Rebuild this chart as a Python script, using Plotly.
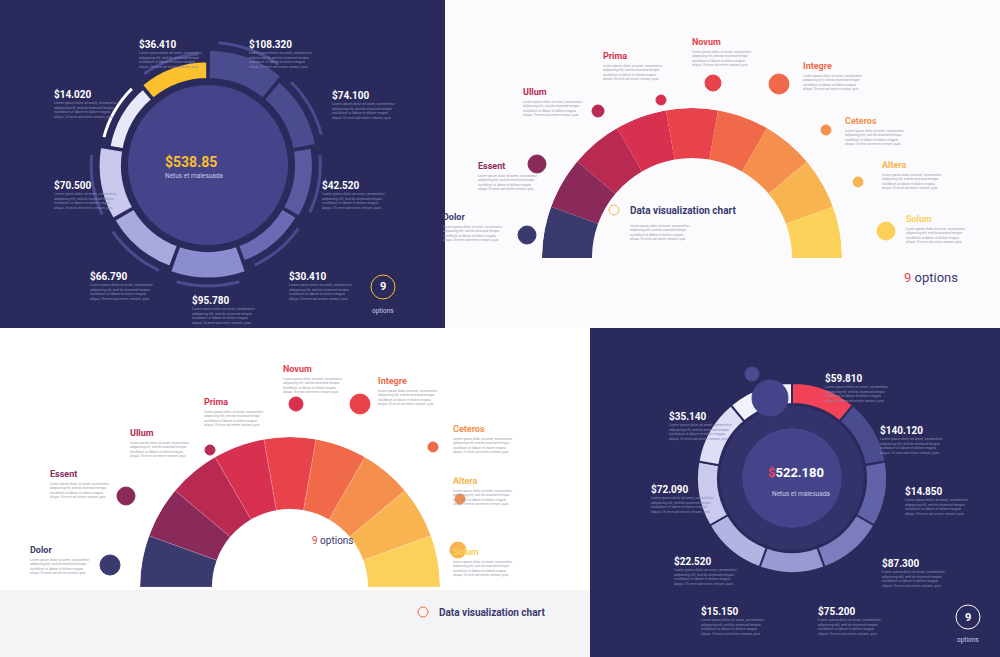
import plotly.graph_objects as go

W, H = 1000, 657
def px(x): return x / W
def py(y): return 1 - y / H

# ---------- data ----------
tl_labels = ["$108.320", "$74.100", "$42.520", "$30.410", "$95.780", "$66.790", "$70.500", "$14.020", "$36.410"]
tl_values = [108.32, 74.10, 42.52, 30.41, 95.78, 66.79, 70.50, 14.02, 36.41]
tl_colors = ["#4b4b8f", "#4b4b8f", "#5a5aa0", "#6b6bb5", "#8c8cd0", "#a9a9e0", "#c9c9ee", "#e8e8f8", "#fbc02d"]
tl_pos = [(247, 36), (330, 87), (320, 177), (287, 268), (190, 292), (88, 268), (52, 177), (52, 86), (137, 36)]

opt_names = ["Dolor", "Essent", "Ullum", "Prima", "Novum", "Integre", "Ceteros", "Altera", "Solum"]
opt_colors = ["#3a3a6e", "#8a2a5a", "#b82a52", "#d8304f", "#e8434a", "#f06a4a", "#f58f4d", "#f8b450", "#fbd15a"]
tr_pos = [(441, 210), (476, 159), (521, 85), (601, 49), (690, 35), (801, 59), (843, 114), (880, 158), (904, 212)]
bl_pos = [(28, 543), (48, 467), (128, 426), (202, 395), (281, 362), (376, 374), (451, 422), (451, 474), (451, 545)]

br_labels = ["$59.810", "$140.120", "$14.850", "$87.300", "$75.200", "$15.150", "$22.520", "$72.090", "$35.140"]
br_values = [59.81, 140.12, 14.85, 87.30, 75.20, 15.15, 22.52, 72.09, 35.14]
br_colors = ["#f0435a", "#4b4b8f", "#6262a8", "#7c7cbe", "#9a9ad2", "#b4b4e2", "#cacaee", "#dedef6", "#f2f2fb"]
br_pos = [(823, 370), (878, 422), (903, 483), (880, 555), (816, 603), (699, 603), (672, 553), (649, 481), (667, 408)]

LOREM = "Lorem ipsum dolor sit amet, consectetur<br>adipiscing elit, sed do eiusmod tempor<br>incididunt ut labore et dolore magna<br>aliqua. Ut enim ad minim veniam, quis"

fig = go.Figure()
shapes, ann = [], []

def rect(x0, y0, x1, y1, c):
    shapes.append(dict(type="rect", xref="paper", yref="paper", x0=px(x0), x1=px(x1),
                       y0=py(y1), y1=py(y0), fillcolor=c, line_width=0, layer="below"))
rect(0, 0, 1000, 657, "#ffffff")
rect(445, 0, 1000, 328, "#fbfbfd")
rect(0, 0, 445, 328, "#2b2a5c")
rect(590, 328, 1000, 657, "#2b2a5c")
rect(0, 590, 590, 657, "#f4f4f6")

def circ(cx, cy, r, c, line=None):
    shapes.append(dict(type="circle", xref="paper", yref="paper", x0=px(cx - r), x1=px(cx + r),
                       y0=py(cy + r), y1=py(cy - r), fillcolor=c,
                       line=dict(color=line or c, width=1)))

def text(x, y, t, size, color, bold=False, anchor="left", yanchor="top"):
    ann.append(dict(x=px(x), y=py(y), xref="paper", yref="paper", text=f"<b>{t}</b>" if bold else t,
                    showarrow=False, xanchor=anchor, yanchor=yanchor, align="left",
                    font=dict(family="Roboto", size=size, color=color)))

# ---------- top-left radial ----------
thetas = [20 + 40 * i for i in range(9)]
seg = [12 + v * 0.16 for v in tl_values]
fig.add_trace(go.Barpolar(r=[80], theta=[180], width=[360], base=0,
                          marker=dict(color="#45448a", line_width=0), subplot="polar"))
fig.add_trace(go.Barpolar(r=seg, theta=thetas, width=[39] * 9, base=[86] * 9,
                          marker=dict(color=tl_colors, line=dict(color="#2b2a5c", width=2)), subplot="polar"))
fig.add_trace(go.Barpolar(r=[3] * 9, theta=thetas, width=[30] * 9,
                          base=[86 + s + 6 for s in seg],
                          marker=dict(color=["#4b4b8f"] * 7 + ["#ffffff", "#4b4b8f"], line_width=0), subplot="polar"))
for (x, y), l in zip(tl_pos, tl_labels):
    text(x, y, l, 10, "#ffffff", bold=True)
    text(x, y + 13, LOREM, 3.5, "#8a8ab5")
text(163, 152, "$538.85", 14, "#fbc02d", bold=True)
text(163, 170, "Netus et malesuada", 6.5, "#c8c8e8")
circ(383, 287, 12, "rgba(0,0,0,0)", line="#fbc02d")
text(383, 287, "9", 11, "#ffffff", bold=True, anchor="center", yanchor="middle")
text(383, 305, "options", 6.5, "#c8c8e8", anchor="center")

# ---------- top-right semicircle ----------
th2 = [10 + 20 * i for i in range(9)]
fig.add_trace(go.Barpolar(r=[50] * 9, theta=th2, width=[20] * 9, base=[100] * 9,
                          marker=dict(color=opt_colors, line_width=0), subplot="polar2"))
for (x, y), n, c in zip(tr_pos, opt_names, opt_colors):
    text(x, y, n, 9, c, bold=True)
    text(x, y + 13, LOREM, 3.3, "#9a9aaa")
for (cx, cy), c, r in zip([(527, 235), (537, 164), (598, 111), (661, 100), (713, 83), (779, 84), (826, 130), (858, 182), (886, 231)],
                          opt_colors, [9, 9, 6, 5, 8, 10, 5, 5, 9]):
    circ(cx, cy, r, c)
circ(614, 210, 5, "rgba(0,0,0,0)", line="#f8b450")
text(628, 210, "Data visualization chart", 10, "#3a3a6e", bold=True, yanchor="middle")
text(628, 222, LOREM, 3.3, "#9a9aaa")
text(902, 277, "<span style='color:#e8434a'>9</span> options", 13, "#3a3a6e", yanchor="middle")

# ---------- bottom-left ----------
fig.add_trace(go.Barpolar(r=[72] * 9, theta=th2, width=[20] * 9, base=[78] * 9,
                          marker=dict(color=opt_colors, line=dict(color="rgba(255,255,255,0.15)", width=1)),
                          subplot="polar3"))
for (x, y), n, c in zip(bl_pos, opt_names, opt_colors):
    text(x, y, n, 9, c, bold=True)
    text(x, y + 13, LOREM, 3.3, "#9a9aaa")
for (cx, cy), c, r in zip([(110, 565), (126, 496), (210, 450), (296, 404), (360, 404), (433, 447), (460, 499), (458, 550)],
                          opt_colors[:8], [10, 9, 5, 7, 10, 5, 5, 8]):
    circ(cx, cy, r, c)
text(310, 540, "<span style='color:#e8434a'>9</span> options", 10, "#3a3a6e", yanchor="middle")
circ(423, 612, 5, "rgba(0,0,0,0)", line="#f06a4a")
text(437, 612, "Data visualization chart", 10, "#3a3a6e", bold=True, yanchor="middle")

# ---------- bottom-right donut ----------
fig.add_trace(go.Barpolar(r=[50], theta=[180], width=[360], base=0,
                          marker=dict(color="#45448a", line_width=0), subplot="polar4"))
fig.add_trace(go.Barpolar(r=[22], theta=[180], width=[360], base=50,
                          marker=dict(color="#33326a", line_width=0), subplot="polar4"))
fig.add_trace(go.Barpolar(r=[21] * 9, theta=thetas, width=[40] * 9, base=[74] * 9,
                          marker=dict(color=br_colors, line=dict(color="#2b2a5c", width=2)), subplot="polar4"))
for (x, y), l in zip(br_pos, br_labels):
    text(x, y, l, 10, "#ffffff", bold=True)
    text(x, y + 13, LOREM, 3.5, "#8a8ab5")
text(766, 472, "<span style='color:#f0435a'>$</span>522.180", 13, "#ffffff", bold=True, yanchor="middle")
text(770, 488, "Netus et malesuada", 6.5, "#c8c8e8")
circ(752, 374, 7, "#4b4b8f")
circ(770, 398, 18, "#45448a")
circ(968, 617, 12, "rgba(0,0,0,0)", line="#ffffff")
text(968, 617, "9", 11, "#ffffff", bold=True, anchor="center", yanchor="middle")
text(968, 634, "options", 6.5, "#c8c8e8", anchor="center")

def pol(cx, cy, R, half=False):
    if half:
        dom = dict(x=[px(cx - R), px(cx + R)], y=[py(cy), py(cy - R)])
    else:
        dom = dict(x=[px(cx - R), px(cx + R)], y=[py(cy + R), py(cy - R)])
    d = dict(domain=dom, bgcolor="rgba(0,0,0,0)",
             radialaxis=dict(range=[0, R], visible=False),
             angularaxis=dict(visible=False, direction="clockwise", rotation=180 if half else 90))
    if half:
        d["sector"] = [0, 180]
    return d

fig.update_layout(
    width=W, height=H, margin=dict(l=0, r=0, t=0, b=0), showlegend=False,
    paper_bgcolor="#ffffff", plot_bgcolor="#ffffff",
    polar=pol(208, 165, 140),
    polar2=pol(692, 258, 150, half=True),
    polar3=pol(290, 587, 150, half=True),
    polar4=pol(792, 478, 96),
    shapes=shapes, annotations=ann,
)
fig.write_html("out.html", config={"displayModeBar": False},
               post_script="document.body.style.margin='0';document.body.style.overflow='hidden';")
